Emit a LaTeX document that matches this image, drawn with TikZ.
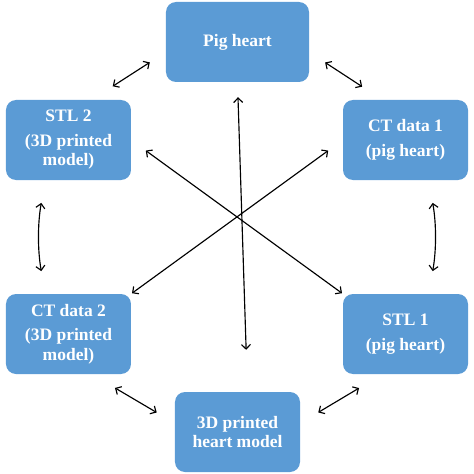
\documentclass[tikz,border=0pt]{standalone}
\usepackage{fontspec}
\setmainfont{Liberation Serif}
\usepackage{tikz}
\usetikzlibrary{calc,positioning,arrows.meta}
\definecolor{boxblue}{RGB}{91,155,213}

\begin{document}
\begin{tikzpicture}[x=1pt,y=1pt,
  block/.style={
    fill=boxblue,
    rectangle, rounded corners=10pt,
    minimum width=125pt, minimum height=80pt,
    text=white,
    align=center,
    font=\fontsize{17.5}{19.5}\selectfont\bfseries},
  link/.style={{Straight Barb[length=4.5pt,width=9pt]}-{Straight Barb[length=4.5pt,width=9pt]},
    line width=1.15pt},
  ]

  \useasboundingbox (-237,-237) rectangle (237,237);

  \node (PigHeart) [block, minimum width=143pt] at(0.5,195) {Pig heart};
  \node (PrintModel) [block] at($(PigHeart)+(0,-390)$) {3D printed\\heart model};

  \node (STL2) [block] at($(PigHeart)+(-169,-98)$) {STL 2\\[5pt](3D printed\\model)};
  \node (CTData1) [block] at($(PigHeart)+(168,-98)$) {CT data 1\\[6pt](pig heart)};

  \node (CTData2) [block] at($(PrintModel)+(-169,98)$) {CT data 2\\[5pt](3D printed\\model)};
  \node (STL1) [block] at($(PrintModel)+(168,98)$) {STL 1\\[6pt](pig heart)};

  \draw[link, shorten <=25pt, shorten >=19pt] (STL2.60) -- (PigHeart.188);
  \draw[link, shorten <=19pt, shorten >=24pt] (PigHeart.-8) -- (CTData1.120);
  \draw[link, shorten <=23pt, shorten >=23pt] (STL2.-120) to[bend right=10] (CTData2.120);
  \draw[link, shorten <=23pt, shorten >=23pt] (CTData1.-60) to[bend left=10] (STL1.60);
  \draw[link, shorten <=27pt, shorten >=21pt] (CTData2.-60) -- (PrintModel.172);
  \draw[link, shorten <=27pt, shorten >=21pt] (STL1.-120) -- (PrintModel.8);

  \draw[link, shorten <=15pt, shorten >=42pt] (PigHeart.south) -- ($(PrintModel.north)+(10,0)$);
  \draw[link, shorten <=18pt, shorten >=1pt] (STL2.east) -- (STL1.north west);
  \draw[link, shorten <=18pt, shorten >=1pt] (CTData1.west) -- (CTData2.north east);

\end{tikzpicture}
\end{document}
